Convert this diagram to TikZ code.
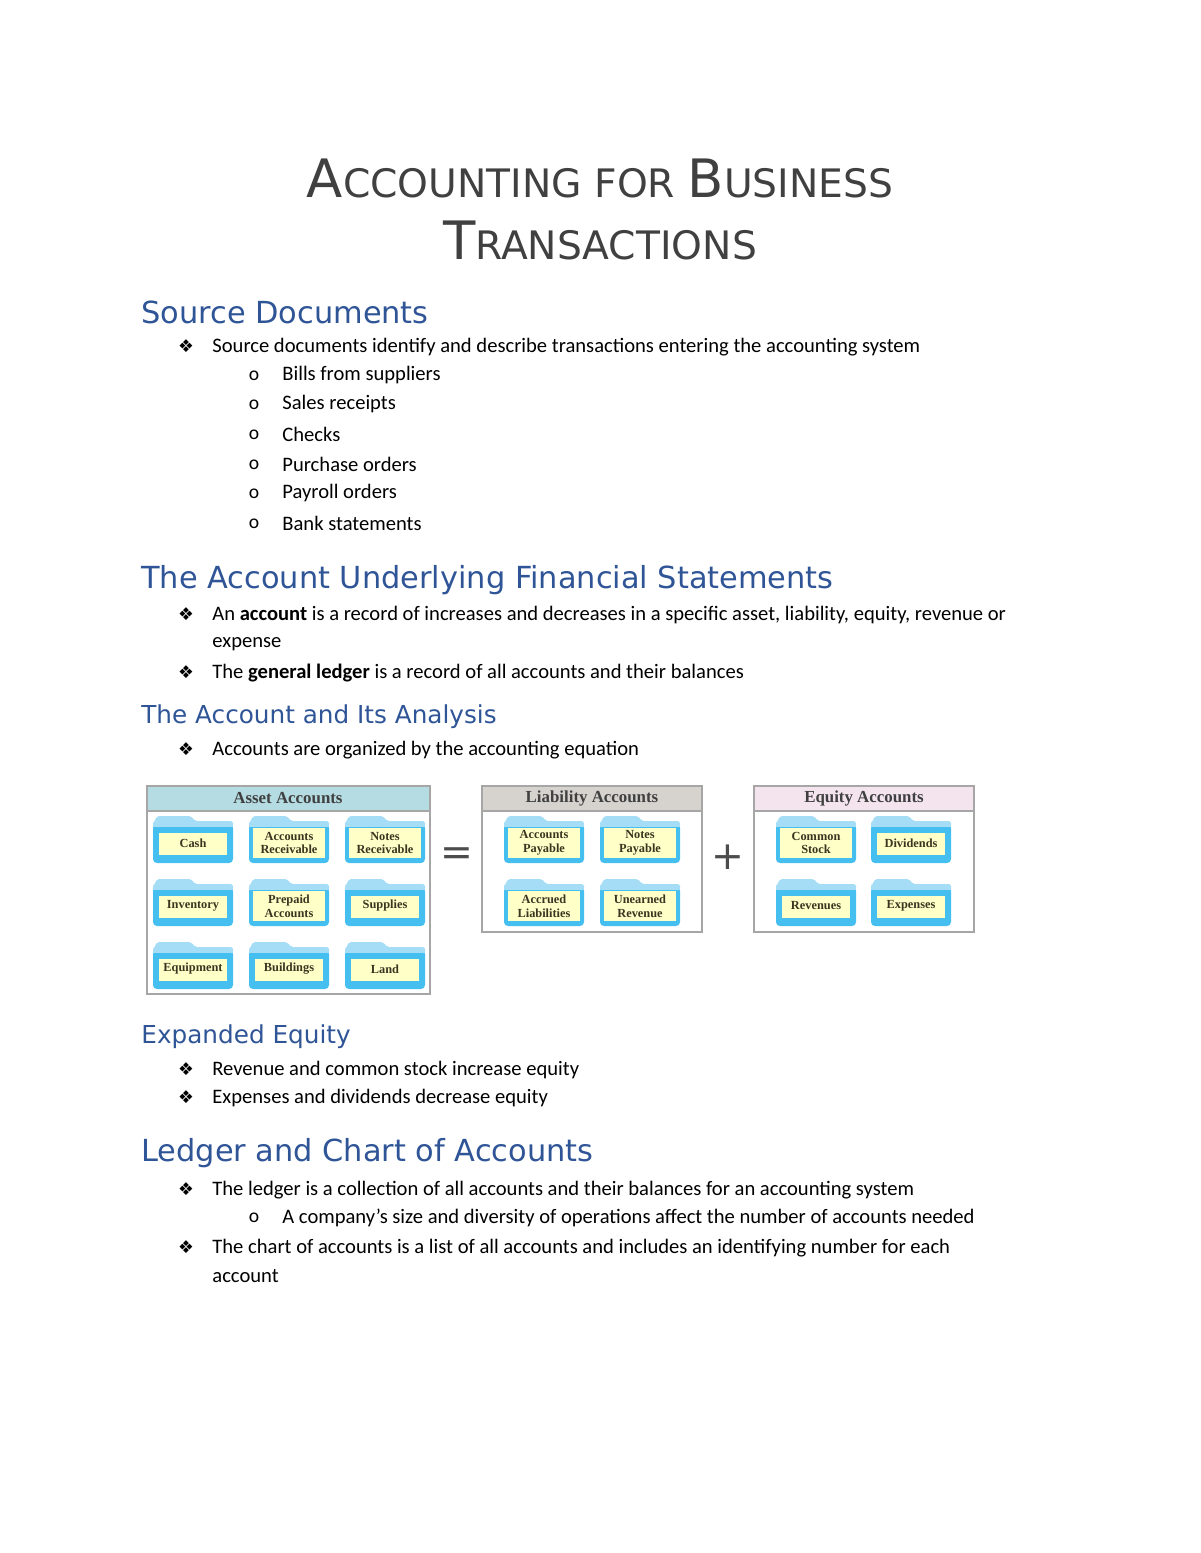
\documentclass[tikz,border=0pt]{standalone}
\usepackage{fontspec}
\setmainfont{Carlito}
\newfontfamily\hfont{DejaVu Sans}
\newfontfamily\dv{DejaVu Sans}
\newfontfamily\tms{Liberation Serif}
\definecolor{hblue}{HTML}{2F5597}
\definecolor{tgray}{HTML}{404040}
\definecolor{fblue}{HTML}{45BEF0}
\definecolor{ftab}{HTML}{A6DDF6}
\definecolor{fyel}{HTML}{FFFFC8}
\definecolor{ftext}{HTML}{3A3520}
\definecolor{ahead}{HTML}{B4DCE2}
\definecolor{lhead}{HTML}{D6D3CE}
\definecolor{ehead}{HTML}{F4E4EE}
\tikzset{
 body/.style={anchor=west,inner sep=0pt,font=\fontsize{10.5}{12}\selectfont,text=black},
 hd/.style={anchor=west,inner sep=0pt,text=hblue},
 bul/.style={anchor=center,inner sep=0pt,font=\dv\fontsize{9}{10}\selectfont},
 sub/.style={anchor=center,inner sep=0pt,font=\fontsize{10}{10}\selectfont},
 ftxt/.style={inner sep=0pt,align=center,font=\tms\bfseries\fontsize{6.3}{7}\selectfont,text=ftext},
 grp/.style={draw=gray!70,line width=0.8pt},
 ghd/.style={font=\tms\bfseries\fontsize{8.6}{9}\selectfont,text=black!75}
}
% \fold{cx}{cy}{text}{two-line?}
\newcommand\fold[4]{%
 \fill[ftab,rounded corners=1pt] (#1-40,#2-22) -- (#1-40,#2-17) -- (#1-36,#2-25) -- (#1-2,#2-25) -- (#1+2,#2-20) -- (#1+40,#2-20) -- (#1+40,#2-14) -- (#1-40,#2-14) -- cycle;
 \fill[fblue,rounded corners=2pt] (#1-40,#2-17) rectangle (#1+40,#2+22);
 \fill[ftab] (#1-40,#2-17) rectangle (#1+40,#2-14);
 \ifnum#4=1
  \fill[fyel] (#1-34,#2-8) rectangle (#1+34,#2+14);
 \else
  \fill[fyel] (#1-36,#2-13) rectangle (#1+36,#2+17);
 \fi
 \node[ftxt] at (#1,#2+2) {#3};}
\begin{document}
\begin{tikzpicture}[x=0.51pt,y=-0.51pt]
\useasboundingbox (0,0) rectangle (1200,1553);
% title
\node[inner sep=0pt,text=tgray,font=\hfont] at (600,178) {\fontsize{27}{30}\selectfont A\fontsize{20}{22}\selectfont CCOUNTING FOR \fontsize{27}{30}\selectfont B\fontsize{20}{22}\selectfont USINESS};
\node[inner sep=0pt,text=tgray,font=\hfont] at (600,240) {\fontsize{27}{30}\selectfont T\fontsize{20}{22}\selectfont RANSACTIONS};
% headings
\node[hd,font=\hfont\fontsize{15.5}{17}\selectfont] at (141,312) {Source Documents};
\node[hd,font=\hfont\fontsize{15.5}{17}\selectfont] at (141,580) {The Account Underlying Financial Statements};
\node[hd,font=\hfont\fontsize{12.6}{14}\selectfont] at (141,717) {The Account and Its Analysis};
\node[hd,font=\hfont\fontsize{12.6}{14}\selectfont] at (141,1037) {Expanded Equity};
\node[hd,font=\hfont\fontsize{15.5}{17}\selectfont] at (141,1153) {Ledger and Chart of Accounts};
% bullets
\foreach \y in {346,614,672,749,1069,1097,1189,1247} \node[bul] at (186,\y) {❖};
\foreach \y in {376,405,435,465,494,524,1218} \node[sub] at (254,\y) {o};
\node[body] at (212,347) {Source documents identify and describe transactions entering the accounting system};
\node[body] at (282,375) {Bills from suppliers};
\node[body] at (282,404) {Sales receipts};
\node[body] at (282,434) {Checks};
\node[body] at (282,464) {Purchase orders};
\node[body] at (282,493) {Payroll orders};
\node[body] at (282,523) {Bank statements};
\node[body] at (212,615) {An \textbf{account} is a record of increases and decreases in a specific asset, liability, equity, revenue or};
\node[body] at (212,644) {expense};
\node[body] at (212,673) {The \textbf{general ledger} is a record of all accounts and their balances};
\node[body] at (212,750) {Accounts are organized by the accounting equation};
\node[body] at (212,1070) {Revenue and common stock increase equity};
\node[body] at (212,1098) {Expenses and dividends decrease equity};
\node[body] at (212,1190) {The ledger is a collection of all accounts and their balances for an accounting system};
\node[body] at (282,1218) {A company’s size and diversity of operations affect the number of accounts needed};
\node[body] at (212,1248) {The chart of accounts is a list of all accounts and includes an identifying number for each};
\node[body] at (212,1276) {account};
% groups
\fill[ahead] (147,786) rectangle (430,811);
\draw[grp] (147,786) rectangle (430,994);
\draw[grp] (147,811) -- (430,811);
\node[ghd] at (288,798) {Asset Accounts};
\fill[lhead] (482,786) rectangle (702,811);
\draw[grp] (482,786) rectangle (702,932);
\draw[grp] (482,811) -- (702,811);
\node[ghd] at (592,798) {Liability Accounts};
\fill[ehead] (754,786) rectangle (974,811);
\draw[grp] (754,786) rectangle (974,932);
\draw[grp] (754,811) -- (974,811);
\node[ghd] at (864,798) {Equity Accounts};
\node[font=\dv\fontsize{20}{20}\selectfont,text=black!70,inner sep=0pt] at (457,857) {=};
\node[font=\dv\fontsize{20}{20}\selectfont,text=black!70,inner sep=0pt] at (728,857) {+};
% asset folders
\fold{193}{841}{Cash}{1}
\fold{289}{841}{Accounts\\Receivable}{2}
\fold{385}{841}{Notes\\Receivable}{2}
\fold{193}{904}{Inventory}{1}
\fold{289}{904}{Prepaid\\Accounts}{2}
\fold{385}{904}{Supplies}{1}
\fold{193}{967}{Equipment}{1}
\fold{289}{967}{Buildings}{1}
\fold{385}{967}{Land}{1}
\fold{544}{841}{Accounts\\Payable}{2}
\fold{640}{841}{Notes\\Payable}{2}
\fold{544}{904}{Accrued\\Liabilities}{2}
\fold{640}{904}{Unearned\\Revenue}{2}
\fold{816}{841}{Common\\Stock}{2}
\fold{911}{841}{Dividends}{1}
\fold{816}{904}{Revenues}{1}
\fold{911}{904}{Expenses}{1}
\end{tikzpicture}
\end{document}
